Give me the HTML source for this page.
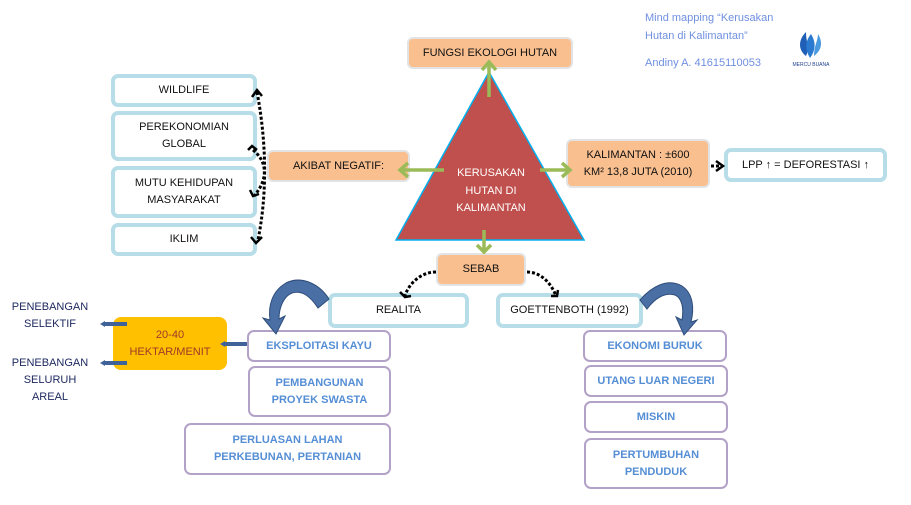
<!DOCTYPE html>
<html><head><meta charset="utf-8"><style>
body{margin:0;width:911px;height:505px;background:#fff;position:relative;overflow:hidden;font-family:"Liberation Sans",sans-serif}
.b{position:absolute;box-sizing:border-box;display:flex;align-items:center;justify-content:center;text-align:center;font-size:11px;line-height:17px;color:#111}
.o{background:#f9bf8f;border:2px solid #e3e3e3;border-radius:6px}
.l{background:#fff;border:4px solid #b7dde8;border-radius:7px}
.p{background:#fff;border:2px solid #b3a2c7;border-radius:7px;color:#558ed5;font-weight:bold;font-size:11px}
.t{position:absolute;font-size:11px;line-height:17px;color:#1f2a60;text-align:center}
svg{position:absolute;left:0;top:0}
</style></head><body>
<svg width="911" height="505">
<polygon points="489,72 396,240 584,240" fill="#c0504d" stroke="#00b0f0" stroke-width="1.5"/>
<g fill="#1f5fb5"><path d="M806 56 C798 50,798 40,806 32 C806 42,810 48,806 56Z"/><path d="M810 58 C804 48,806 40,811 34 C816 42,816 50,810 58Z" fill="#2a7ad0"/><path d="M814 56 C814 46,818 40,818 34 C823 42,822 50,814 56Z" fill="#4a9ae0"/></g>
<text x="811" y="66" font-size="5" fill="#1f3f8f" text-anchor="middle" font-family="Liberation Sans">MERCU BUANA</text>
</svg>
<div class="t" style="left:645px;top:9px;text-align:left;color:#6f8fe0;font-size:11px;line-height:18px">Mind mapping “Kerusakan<br>Hutan di Kalimantan”</div>
<div class="t" style="left:645px;top:55px;text-align:left;color:#6f8fe0;font-size:11px">Andiny A. 41615110053</div>
<div class="b o" style="left:407px;top:37px;width:166px;height:32px">FUNGSI EKOLOGI HUTAN</div>
<div class="t" style="left:430px;top:165px;width:122px;color:#fff;line-height:17.5px">KERUSAKAN<br>HUTAN DI<br>KALIMANTAN</div>
<div class="b o" style="left:267px;top:150px;width:143px;height:32px">AKIBAT NEGATIF:</div>
<div class="b l" style="left:111px;top:74px;width:146px;height:33px">WILDLIFE</div>
<div class="b l" style="left:111px;top:111px;width:146px;height:50px">PEREKONOMIAN<br>GLOBAL</div>
<div class="b l" style="left:111px;top:166px;width:146px;height:52px">MUTU KEHIDUPAN<br>MASYARAKAT</div>
<div class="b l" style="left:111px;top:223px;width:146px;height:33px">IKLIM</div>
<div class="b o" style="left:566px;top:139px;width:144px;height:49px">KALIMANTAN : ±600<br>KM² 13,8 JUTA (2010)</div>
<div class="b l" style="left:724px;top:148px;width:163px;height:34px">LPP ↑ = DEFORESTASI ↑</div>
<div class="b o" style="left:436px;top:253px;width:90px;height:33px">SEBAB</div>
<div class="b l" style="left:328px;top:293px;width:141px;height:35px">REALITA</div>
<div class="b l" style="left:496px;top:293px;width:147px;height:35px">GOETTENBOTH (1992)</div>
<div class="b" style="left:113px;top:317px;width:114px;height:53px;background:#ffc000;border-radius:8px;color:#a0392a">20-40<br>HEKTAR/MENIT</div>
<div class="t" style="left:5px;top:299px;width:90px">PENEBANGAN<br>SELEKTIF</div>
<div class="t" style="left:5px;top:355px;width:90px">PENEBANGAN<br>SELURUH<br>AREAL</div>
<div class="b p" style="left:247px;top:330px;width:144px;height:32px">EKSPLOITASI KAYU</div>
<div class="b p" style="left:248px;top:366px;width:143px;height:51px">PEMBANGUNAN<br>PROYEK SWASTA</div>
<div class="b p" style="left:184px;top:423px;width:207px;height:52px">PERLUASAN LAHAN<br>PERKEBUNAN, PERTANIAN</div>
<div class="b p" style="left:583px;top:330px;width:144px;height:32px">EKONOMI BURUK</div>
<div class="b p" style="left:584px;top:365px;width:144px;height:32px">UTANG LUAR NEGERI</div>
<div class="b p" style="left:584px;top:401px;width:144px;height:32px">MISKIN</div>
<div class="b p" style="left:584px;top:438px;width:144px;height:51px">PERTUMBUHAN<br>PENDUDUK</div>
<svg width="911" height="505" style="pointer-events:none">
<g stroke="#9bbb59" stroke-width="3.5" fill="none">
<path d="M489 97V62M482 70l7-8 7 8"/>
<path d="M444 170H400M408 163l-8 7 8 7"/>
<path d="M540 170H570M562 163l8 7-8 7"/>
<path d="M484 230V252M477 245l7 7 7-7"/>
</g>
<g stroke="#000" stroke-width="3" stroke-dasharray="3,2" fill="none">
<path d="M257 92 C268 150,266 200,258 240"/>
<path d="M253 150 C268 162,268 180,254 196"/>
<path d="M711 166H720"/>
<path d="M436 272 C420 272,408 285,405 296"/>
<path d="M527 272 C542 272,552 285,556 296"/>
</g>
<g stroke="#000" stroke-width="2.5" fill="none">
<path d="M252 97l5-7 5 6"/><path d="M251 237l5 6 6-6"/><path d="M248 150l4-4 5 4"/><path d="M250 190l3 6 6-2"/>
<path d="M716 161l7 5-7 5"/><path d="M400 292l5 5 6-1"/><path d="M551 296l6 0 1-6"/>
</g>
<g fill="#4a6fa5" stroke="#2e4d7a" stroke-width="1">
<path d="M329 299 C318 282,300 276,286 283 C272 291,268 306,270 320 L263 318 L276 334 L285 316 L279 319 C279 307,284 296,292 293 C302 290,310 296,318 308 Z"/>
<path d="M640 300 C652 286,668 278,682 286 C694 294,694 310,691 322 L697 320 L684 335 L676 317 L682 320 C684 308,682 298,675 295 C665 292,655 298,647 309 Z"/>
</g>
<g stroke="#3f6398" stroke-width="4" fill="none">
<path d="M127 324H104"/><path d="M127 363H104"/><path d="M247 344H224"/>
</g>
<g fill="#3f6398"><path d="M100 324l5-3v6z"/><path d="M100 363l5-3v6z"/><path d="M220 344l5-3v6z"/></g>
</svg>
</body></html>
